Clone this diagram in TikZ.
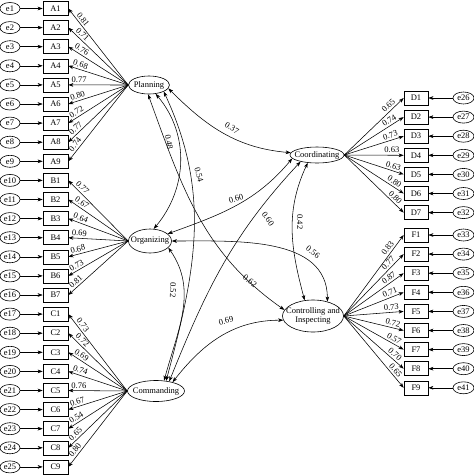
\documentclass[tikz,border=0pt]{standalone}
\usepackage{fontspec}
\setmainfont{Liberation Serif}
\usetikzlibrary{arrows.meta,shapes.geometric}
\begin{document}
\begin{tikzpicture}[x=1pt,y=1pt,
  >={Stealth[length=5pt,width=3.6pt,inset=1.3pt]},
  every node/.style={font=\fontsize{8.5}{9.5}\selectfont},
  lat/.style={ellipse, draw, inner sep=0pt, line width=0.6pt},
  obs/.style={rectangle, draw, minimum width=25pt, minimum height=14pt, inner sep=0pt, line width=0.6pt},
  err/.style={ellipse, draw, minimum width=20pt, minimum height=12pt, inner sep=0pt, line width=0.6pt},
  conn/.style={->, line width=0.55pt},
  corr/.style={<->, line width=0.55pt},
  lab/.style={inner sep=0.3pt},
  slab/.style={lab, sloped, above=1.6pt}
]
\useasboundingbox (0,0) rectangle (474,-475);

% latent variables
\node[lat, minimum width=41pt, minimum height=18pt] (P) at (149,-85) {\makebox[0pt]{Planning}};
\node[lat, minimum width=43pt, minimum height=24pt] (O) at (150,-241) {\makebox[0pt]{Organizing}};
\node[lat, minimum width=57pt, minimum height=21pt] (Cm) at (156,-391) {\makebox[0pt]{Commanding}};
\node[lat, minimum width=54pt, minimum height=16pt] (Co) at (317,-155) {\makebox[0pt]{Coordinating}};
\node[lat, minimum width=61pt, minimum height=32pt] (Ct) at (313,-316) {\makebox[0pt]{\begin{tabular}{@{}c@{}}Controlling and\\Inspecting\end{tabular}}};

% A block
\foreach \v [count=\k] in {0.81,0.71,0.76,0.68,0.77,0.80,0.72,0.77,0.74}{
  \pgfmathsetmacro\yy{-(8.5+(\k-1)*19.1)}
  \node[obs] (A\k) at (55.5,\yy) {A\k};
  \node[err] (eA\k) at (10,\yy) {e\k};
  \draw[conn] (eA\k) -- (A\k);
  \draw[conn] (P.west) -- node[slab,pos=0.82]{\v} (A\k.east);
}
% B block
\foreach \v [count=\k] in {0.77,0.67,0.64,0.69,0.68,0.73,0.81}{
  \pgfmathsetmacro\yy{-(8.5+(\k+8)*19.1)}
  \pgfmathtruncatemacro\en{\k+9}
  \node[obs] (B\k) at (55.5,\yy) {B\k};
  \node[err] (eB\k) at (10,\yy) {e\en};
  \draw[conn] (eB\k) -- (B\k);
  \draw[conn] (O.west) -- node[slab,pos=0.82]{\v} (B\k.east);
}
% C block
\foreach \v [count=\k] in {0.73,0.72,0.69,0.74,0.76,0.67,0.54,0.65,0.80}{
  \pgfmathsetmacro\yy{-(8.5+(\k+15)*19.1)}
  \pgfmathtruncatemacro\en{\k+16}
  \node[obs] (C\k) at (55.5,\yy) {C\k};
  \node[err] (eC\k) at (10,\yy) {e\en};
  \draw[conn] (eC\k) -- (C\k);
  \draw[conn] (Cm.west) -- node[slab,pos=0.82]{\v} (C\k.east);
}
% D block
\foreach \v [count=\k] in {0.65,0.74,0.73,0.63,0.63,0.80,0.80}{
  \pgfmathsetmacro\yy{-(98+(\k-1)*19.1)}
  \pgfmathtruncatemacro\en{\k+25}
  \node[obs, minimum width=24pt] (D\k) at (416,\yy) {D\k};
  \node[err, minimum width=21pt] (eD\k) at (463.5,\yy) {e\en};
  \draw[conn] (eD\k) -- (D\k);
  \draw[conn] (Co.east) -- node[slab,pos=0.8]{\v} (D\k.west);
}
% F block
\foreach \v [count=\k] in {0.83,0.77,0.87,0.71,0.73,0.72,0.57,0.70,0.65}{
  \pgfmathsetmacro\yy{-(235+(\k-1)*19.1)}
  \pgfmathtruncatemacro\en{\k+32}
  \node[obs, minimum width=24pt] (F\k) at (416,\yy) {F\k};
  \node[err, minimum width=21pt] (eF\k) at (463.5,\yy) {e\en};
  \draw[conn] (eF\k) -- (F\k);
  \draw[conn] (Ct.east) -- node[slab,pos=0.8]{\v} (F\k.west);
}

% correlations
\draw[corr] (P.-10) to[out=-45,in=175] (Co.175);
\draw[corr] (P.-53) to[out=-50,in=50] (O.73);
\draw[corr] (P.-24) to[out=-65,in=75] (Cm.45);
\draw[corr] (P.-96) to[out=-70,in=145] (Ct.168);
\draw[corr] (O.22) to[out=20,in=-130] (Co.-172);
\draw[corr] (O.0) to[out=0,in=90] (Ct.45);
\draw[corr] (O.-20) to[out=-55,in=75] (Cm.52);
\draw[corr] (Cm.36) to[out=68,in=-133] (Co.-158);
\draw[corr] (Cm.28) to[out=52,in=180] (Ct.-172);
\draw[corr] (Co.-140) to[out=-115,in=105] (Ct.118);

% correlation labels
\node[lab,rotate=-32] (l37) at (232,-128) {0.37};
\node[lab,rotate=-80] (l48) at (169,-142) {0.48};
\node[lab,rotate=-75] (l54) at (199,-175) {0.54};
\node[lab,rotate=18] (l60a) at (236,-199) {0.60};
\node[lab,rotate=-55] (l60b) at (268,-219) {0.60};
\node[lab,rotate=-90] (l42) at (300,-222) {0.42};
\node[lab,rotate=-38] (l56) at (313,-252) {0.56};
\node[lab,rotate=-37] (l62) at (250,-281) {0.62};
\node[lab,rotate=-92] (l52) at (173,-290) {0.52};
\node[lab,rotate=15] (l69) at (226,-321) {0.69};
\end{tikzpicture}
\end{document}
